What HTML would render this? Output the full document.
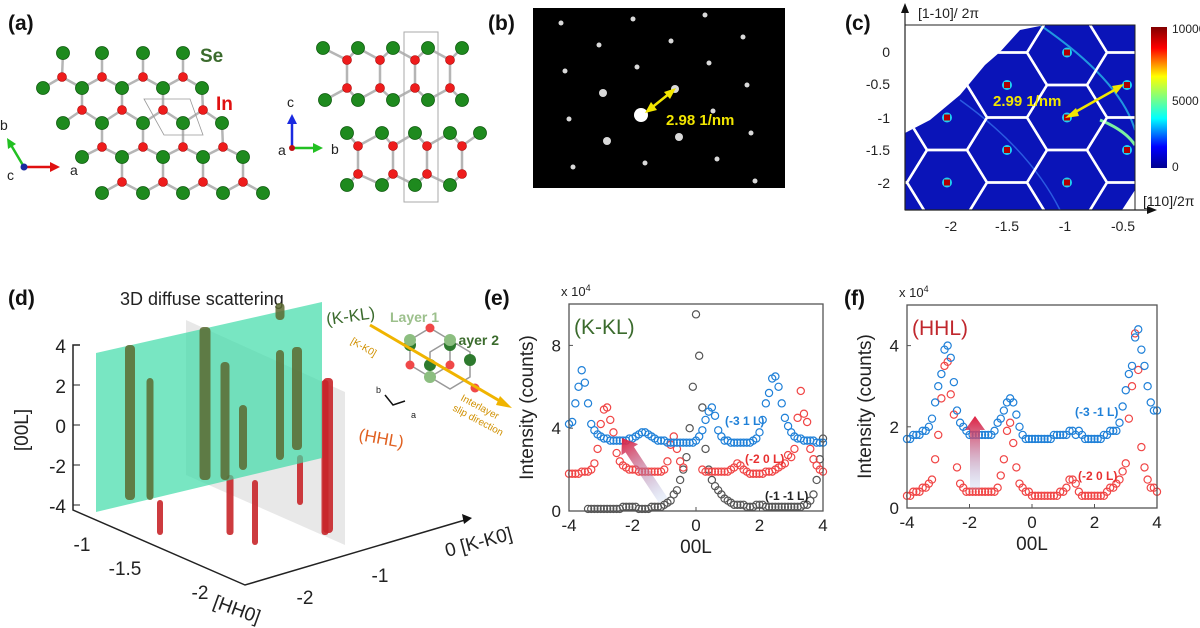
<!DOCTYPE html>
<html><head><meta charset="utf-8"><style>
body{margin:0;background:#fff;}
svg{display:block;font-family:"Liberation Sans",sans-serif;}
</style></head><body>
<svg id="fig" width="1200" height="628" viewBox="0 0 1200 628" xmlns="http://www.w3.org/2000/svg">
<rect width="1200" height="628" fill="#fff"/>
<!-- panel labels -->
<g font-weight="bold" font-size="21" fill="#111">
<text x="8" y="30">(a)</text>
<text x="488" y="30">(b)</text>
<text x="845" y="30">(c)</text>
<text x="8" y="305">(d)</text>
<text x="484" y="305">(e)</text>
<text x="844" y="305">(f)</text>
</g>
<g id="pa"></g>
<g id="pb"></g>
<g id="pc"></g>
<g id="pd"></g>
<g id="pe"></g>
<g id="pf"></g>
</svg>
<script>
// ===== chart data (panels e, f) =====
const Lgrid=[-4,-3.9,-3.8,-3.7,-3.6,-3.5,-3.4,-3.3,-3.2,-3.1,-3,-2.9,-2.8,-2.7,-2.6,-2.5,-2.4,-2.3,-2.2,-2.1,-2,-1.9,-1.8,-1.7,-1.6,-1.5,-1.4,-1.3,-1.2,-1.1,-1,-0.9,-0.8,-0.7,-0.6,-0.5,-0.4,-0.3,-0.2,-0.1,0,0.1,0.2,0.3,0.4,0.5,0.6,0.7,0.8,0.9,1,1.1,1.2,1.3,1.4,1.5,1.6,1.7,1.8,1.9,2,2.1,2.2,2.3,2.4,2.5,2.6,2.7,2.8,2.9,3,3.1,3.2,3.3,3.4,3.5,3.6,3.7,3.8,3.9,4];
const eBlue=[4.2,4.3,5.2,6.0,6.8,6.2,5.2,4.2,3.9,3.7,3.6,3.5,3.5,3.4,3.4,3.4,3.4,3.4,3.4,3.5,3.5,3.6,3.7,3.8,3.8,3.7,3.6,3.5,3.4,3.4,3.4,3.3,3.3,3.3,3.3,3.3,3.3,3.3,3.3,3.3,3.4,3.6,3.9,4.4,4.8,5.0,4.6,3.9,3.6,3.4,3.4,3.3,3.3,3.3,3.3,3.3,3.3,3.3,3.4,3.5,3.8,4.4,5.2,5.7,6.4,6.5,6.0,5.2,4.5,4.1,3.8,3.6,3.5,3.5,3.4,3.4,3.4,3.4,3.3,3.3,3.3];
const eRed=[1.8,1.8,1.8,1.8,1.9,1.9,1.9,2.0,2.3,3.0,4.2,4.9,5.0,4.4,3.8,2.8,2.4,2.2,2.1,2.0,2.0,2.0,1.9,1.9,1.9,1.9,1.9,1.9,1.9,1.9,2.0,2.4,3.2,3.6,3.0,2.4,2.1,null,null,null,null,null,2.0,1.9,1.9,1.9,1.9,1.9,1.9,1.9,1.9,2.0,2.1,2.3,2.2,2.0,1.9,1.8,1.8,1.8,1.8,1.8,1.9,1.9,1.9,2.0,2.1,2.2,2.3,2.7,2.6,3.0,4.5,5.8,4.7,4.3,3.0,2.5,2.2,2.0,1.9];
const eGray=[null,null,null,null,null,null,0.1,0.1,0.1,0.1,0.1,0.1,0.1,0.1,0.1,0.1,0.1,0.2,0.2,0.2,0.2,0.2,0.1,0.1,0.1,0.1,0.2,0.2,0.2,0.2,0.3,0.4,0.5,0.8,1.0,1.5,2.0,2.6,4.0,6.0,9.5,7.5,5.0,3.0,2.0,1.5,1.2,1.0,0.8,0.6,0.5,0.4,0.3,0.3,0.3,0.3,0.2,0.2,0.2,0.3,0.3,0.3,0.2,0.2,0.2,0.2,0.2,0.2,0.2,0.2,0.2,0.2,0.2,0.2,0.3,0.3,0.5,0.8,1.5,2.5,3.5];
const fBlue=[1.7,1.7,1.8,1.8,1.8,1.9,1.9,2.0,2.2,2.6,3.0,3.3,3.9,4.0,3.7,3.1,2.4,2.1,2.0,1.9,1.8,1.8,1.8,1.8,1.8,1.8,1.8,1.8,1.9,2.1,2.2,2.4,2.6,2.7,2.6,2.3,2.0,1.8,1.7,1.7,1.7,1.7,1.7,1.7,1.7,1.7,1.7,1.8,1.8,1.8,1.8,1.8,1.9,1.9,1.8,1.9,1.8,1.7,1.7,1.7,1.7,1.7,1.7,1.8,1.8,1.9,1.9,1.9,2.1,2.5,2.9,3.3,3.5,4.2,4.4,3.9,3.5,3.0,2.6,2.4,2.4];
const fRed=[0.3,0.3,0.4,0.4,0.4,0.5,0.5,0.6,0.7,1.2,1.8,2.7,3.5,3.6,2.8,2.3,1.0,0.6,0.5,0.4,0.4,0.4,0.4,0.4,0.4,0.4,0.4,0.4,0.4,0.5,0.8,1.2,1.9,2.1,1.6,1.0,0.6,0.5,0.4,0.4,0.3,0.3,0.3,0.3,0.3,0.3,0.3,0.3,0.3,0.4,0.4,0.5,0.7,0.7,0.6,0.4,0.3,0.3,0.3,0.3,0.3,0.3,0.3,0.3,0.4,0.5,0.5,0.6,0.7,0.9,1.1,2.2,3.0,4.3,3.4,1.5,1.0,0.7,0.5,0.5,0.4];
const xTicks=[-4,-2,0,2,4];
const eYTicks=[0,4,8];
const fYTicks=[0,2,4];

const NS="http://www.w3.org/2000/svg";
function mk(parent,tag,attrs,text){const el=document.createElementNS(NS,tag);for(const k in attrs)el.setAttribute(k,attrs[k]);if(text!==undefined)el.textContent=text;parent.appendChild(el);return el;}

// ===== panel a =====
(function(){
const g=document.getElementById('pa');
const greens=[[63,53],[102,53],[143,53],[183,53],[43,88],[82,88],[122,88],[163,88],[202,88],[63,123],[102,123],[143,123],[183,123],[222,123],[82,157],[122,157],[163,157],[203,157],[243,157],[102,193],[143,193],[183,193],[223,193],[263,193]];
const reds=[[62,77],[102,77],[143,77],[183,77],[82,110],[122,110],[163,110],[203,110],[102,147],[143,147],[183,147],[223,147],[122,182],[163,182],[203,182],[243,182]];
const greens2=[[323,48],[358,48],[393,48],[428,48],[462,48],[325,100],[358,100],[393,100],[428,100],[462,100],[347,133],[382,133],[415,133],[450,133],[480,133],[347,185],[382,185],[415,185],[450,185]];
const reds2=[[347,60],[380,60],[415,60],[450,60],[347,88],[380,88],[415,88],[450,88],[358,146],[393,146],[427,146],[462,146],[358,174],[393,174],[427,174],[462,174]];
const bonds=mk(g,'g',{stroke:'#b5b5b5','stroke-width':2.5});


function bond(G,R,th){G.forEach(a=>R.forEach(b=>{const d=Math.hypot(a[0]-b[0],a[1]-b[1]);if(d<th)mk(bonds,'line',{x1:a[0],y1:a[1],x2:b[0],y2:b[1]});}));}
bond(greens,reds,30);
for(let i=0;i<reds.length;i++)for(let j=i+1;j<reds.length;j++){}
bond(greens2,reds2,28);
reds2.forEach(a=>reds2.forEach(b=>{if(a[0]===b[0]&&b[1]-a[1]===28)mk(bonds,'line',{x1:a[0],y1:a[1],x2:b[0],y2:b[1]});}));
// unit cells
mk(g,'polygon',{points:'144,99 190,99 203,135 164,135',fill:'none',stroke:'#999','stroke-width':0.8});
mk(g,'rect',{x:404,y:32,width:34,height:170,fill:'none',stroke:'#aaa','stroke-width':1});
greens.concat(greens2).forEach(p=>mk(g,'circle',{cx:p[0],cy:p[1],r:6.5,fill:'#1e8a1e',stroke:'#0d5a0d','stroke-width':0.8}));
reds.concat(reds2).forEach(p=>mk(g,'circle',{cx:p[0],cy:p[1],r:4.5,fill:'#ee1c1c',stroke:'#a00','stroke-width':0.6}));
const se=mk(g,'text',{x:200,y:62,'font-size':19,'font-weight':'bold',fill:'#3b6b2d'},'Se');

const inn=mk(g,'text',{x:216,y:110,'font-size':19,'font-weight':'bold',fill:'#e01010'},'In');

// axes triad 1
mk(g,'line',{x1:24,y1:167,x2:52,y2:167,stroke:'#e01010','stroke-width':2.5});
mk(g,'polygon',{points:'60,167 50,162 50,172',fill:'#e01010'});
mk(g,'line',{x1:24,y1:167,x2:11,y2:145,stroke:'#22c022','stroke-width':2.5});
mk(g,'polygon',{points:'7,138 8,149 16,144',fill:'#22c022'});
mk(g,'circle',{cx:24,cy:167,r:3.5,fill:'#1a2aa0'});
mk(g,'text',{x:0,y:130,'font-size':14,fill:'#222'},'b');
mk(g,'text',{x:7,y:180,'font-size':14,fill:'#222'},'c');
mk(g,'text',{x:70,y:175,'font-size':14,fill:'#222'},'a');
// triad 2
mk(g,'line',{x1:292,y1:148,x2:292,y2:122,stroke:'#1a2ae0','stroke-width':2.5});
mk(g,'polygon',{points:'292,114 287,124 297,124',fill:'#1a2ae0'});
mk(g,'line',{x1:292,y1:148,x2:315,y2:148,stroke:'#22c022','stroke-width':2.5});
mk(g,'polygon',{points:'323,148 313,143 313,153',fill:'#22c022'});
mk(g,'circle',{cx:292,cy:148,r:3,fill:'#c01010'});
mk(g,'text',{x:287,y:107,'font-size':14,fill:'#222'},'c');
mk(g,'text',{x:278,y:155,'font-size':14,fill:'#222'},'a');
mk(g,'text',{x:331,y:154,'font-size':14,fill:'#222'},'b');
})();

// ===== panel b =====
(function(){
const g=document.getElementById('pb');
const bg=mk(g,'rect',{x:533,y:8,width:252,height:180,fill:'#000'});

const cx=641,cy=115;const a1=[34,-26],a2=[38,22];
for(let i=-5;i<=5;i++)for(let j=-5;j<=5;j++){const x=cx+i*a1[0]+j*a2[0],y=cy+i*a1[1]+j*a2[1];if(x<540||x>780||y<14||y>182)continue;const r=(i===0&&j===0)?7:((Math.abs(i)+Math.abs(j))<=1?4:2.5);mk(g,'circle',{cx:x,cy:y,r:r,fill:'#fff',opacity:(i===0&&j===0)?1:0.85});}
mk(g,'line',{x1:650,y1:109,x2:670,y2:93,stroke:'#f2e600','stroke-width':2.5});
mk(g,'polygon',{points:'676,88 664,92 670,99',fill:'#f2e600'});
mk(g,'polygon',{points:'645,113 651,102 657,110',fill:'#f2e600'});
const t=mk(g,'text',{x:666,y:125,'font-size':15,'font-weight':'bold',fill:'#f2e600'},'2.98 1/nm');

})();

// ===== panel c =====
(function(){
const g=document.getElementById('pc');
const defs=mk(g,'defs',{});
const cp=mk(defs,'clipPath',{id:'hm'});
const poly='905,133 930,120 960,95 985,65 1000,52 1020,30 1045,25 1135,25 1135,190 1122,210 905,210';
mk(cp,'polygon',{points:poly});
const hm=mk(g,'polygon',{points:poly,fill:'#0a14b8'});

const cl=mk(g,'g',{'clip-path':'url(#hm)'});
// arcs
mk(cl,'path',{d:'M1040,25 Q1120,80 1135,130',fill:'none',stroke:'#26b8e8','stroke-width':2,opacity:0.8});
mk(cl,'path',{d:'M1100,120 Q1125,130 1135,145',fill:'none',stroke:'#7cf0a0','stroke-width':3});
mk(cl,'path',{d:'M960,100 Q1030,150 1060,210',fill:'none',stroke:'#2a5ae0','stroke-width':1.5});
for(let i=-3;i<=3;i++)for(let j=-5;j<=3;j++){if((i+j)%2!==0)continue;const x=1007+60*i,y=150+32.5*j;
 mk(cl,'polygon',{points:`${x-40},${y} ${x-20},${y-32.5} ${x+20},${y-32.5} ${x+40},${y} ${x+20},${y+32.5} ${x-20},${y+32.5}`,fill:'none',stroke:'#fff','stroke-width':2.5});
 mk(cl,'circle',{cx:x,cy:y,r:5,fill:'#20d0f0'});mk(cl,'rect',{x:x-3,y:y-3,width:6,height:6,fill:'#b00000'});}
mk(g,'rect',{x:905,y:25,width:230,height:185,fill:'none',stroke:'#222','stroke-width':1});
mk(g,'line',{x1:905,y1:210,x2:905,y2:10,stroke:'#222','stroke-width':1.2});
mk(g,'polygon',{points:'905,3 901,13 909,13',fill:'#111'});
mk(g,'line',{x1:905,y1:210,x2:1150,y2:210,stroke:'#222','stroke-width':1.2});
mk(g,'polygon',{points:'1157,210 1147,206 1147,214',fill:'#111'});
mk(g,'text',{x:918,y:18,'font-size':14,fill:'#222'},'[1-10]/ 2π');
mk(g,'text',{x:1143,y:206,'font-size':14,fill:'#222'},'[110]/2π');
[['0',52],['-0.5',84],['-1',118],['-1.5',150],['-2',183]].forEach(t=>mk(g,'text',{x:890,y:t[1]+5,'font-size':14,fill:'#222','text-anchor':'end'},t[0]));
[['-2',951],['-1.5',1007],['-1',1065],['-0.5',1123]].forEach(t=>mk(g,'text',{x:t[1],y:231,'font-size':14,fill:'#222','text-anchor':'middle'},t[0]));
const gr=mk(defs,'linearGradient',{id:'jet',x1:0,y1:1,x2:0,y2:0});
[['0','#00008f'],['0.15','#0000ff'],['0.35','#00ffff'],['0.5','#7fff7f'],['0.65','#ffff00'],['0.85','#ff0000'],['1','#800000']].forEach(s=>mk(gr,'stop',{offset:s[0],'stop-color':s[1]}));
const cb=mk(g,'rect',{x:1151,y:27,width:16,height:141,fill:'url(#jet)'});

[['10000',33],['5000',105],['0',171]].forEach(t=>mk(g,'text',{x:1172,y:t[1],'font-size':12,fill:'#222'},t[0]));
mk(g,'line',{x1:1070,y1:115,x2:1118,y2:88,stroke:'#f2e600','stroke-width':2.5});
mk(g,'polygon',{points:'1065,118 1076,108 1079,116',fill:'#f2e600'});
mk(g,'polygon',{points:'1124,84 1112,86 1116,94',fill:'#f2e600'});
mk(g,'text',{x:993,y:106,'font-size':15,'font-weight':'bold',fill:'#f2e600'},'2.99 1/nm');
})();

// ===== panel d =====
(function(){
const g=document.getElementById('pd');
mk(g,'text',{x:120,y:305,'font-size':18,fill:'#222'},'3D diffuse scattering');
const gp=mk(g,'polygon',{points:'186,320 345,392 345,545 186,475',fill:'#d8d8d8',opacity:0.6});

const rodsR=[[160,500,535,6],[230,475,535,7],[255,480,545,6],[300,455,505,6],[325,380,535,7]];
rodsR.forEach(r=>mk(g,'rect',{x:r[0]-r[3]/2,y:r[1],width:r[3],height:r[2]-r[1],rx:3,fill:'#c8262a',opacity:0.9}));
const tp=mk(g,'polygon',{points:'96,353 322,302 322,458 96,512',fill:'#3fdca8',opacity:0.7});

const rodsG=[[130,345,500,10],[150,378,500,7],[205,327,480,11],[225,362,480,9],[243,405,470,8],[280,350,460,8],[297,347,450,10],[280,303,320,9]];
rodsG.forEach(r=>mk(g,'rect',{x:r[0]-r[3]/2,y:r[1],width:r[3],height:r[2]-r[1],rx:4,fill:'#5a6a30',opacity:0.85}));
mk(g,'rect',{x:323,y:378,width:10,height:155,rx:4,fill:'#c8262a',opacity:0.9});
// axes
mk(g,'path',{d:'M80,345 L73,345 L73,510 L245,585 L465,520',fill:'none',stroke:'#222','stroke-width':1.5});
mk(g,'polygon',{points:'472,518 462,514 464,524',fill:'#111'});
[[345,'4'],[385,'2'],[425,'0'],[465,'-2'],[505,'-4']].forEach(t=>{mk(g,'line',{x1:73,y1:t[0],x2:80,y2:t[0],stroke:'#222'});mk(g,'text',{x:66,y:t[0]+8,'font-size':19,fill:'#222','text-anchor':'end'},t[1]);});
mk(g,'text',{x:28,y:430,'font-size':19,fill:'#222','text-anchor':'middle',transform:'rotate(-90 28 430)'},'[00L]');
mk(g,'text',{x:82,y:551,'font-size':19,fill:'#222','text-anchor':'middle'},'-1');
mk(g,'text',{x:125,y:575,'font-size':19,fill:'#222','text-anchor':'middle'},'-1.5');
mk(g,'text',{x:200,y:599,'font-size':19,fill:'#222','text-anchor':'middle'},'-2');
mk(g,'text',{x:212,y:607,'font-size':19,fill:'#222',transform:'rotate(20 212 607)'},'[HH0]');
mk(g,'text',{x:305,y:604,'font-size':19,fill:'#222','text-anchor':'middle'},'-2');
mk(g,'text',{x:380,y:582,'font-size':19,fill:'#222','text-anchor':'middle'},'-1');
mk(g,'text',{x:447,y:557,'font-size':19,fill:'#222',transform:'rotate(-15 447 557)'},'0 [K-K0]');
mk(g,'text',{x:327,y:325,'font-size':17,fill:'#3b6b2d',transform:'rotate(-8 327 325)'},'(K-KL)');
mk(g,'text',{x:358,y:440,'font-size':17,fill:'#e06020',transform:'rotate(10 358 440)'},'(HHL)');
// inset
mk(g,'text',{x:390,y:322,'font-size':14,'font-weight':'bold',fill:'#9cc08c'},'Layer 1');
mk(g,'text',{x:450,y:345,'font-size':14,'font-weight':'bold',fill:'#3b6b2d'},'Layer 2');
const hx=[[410,340],[430,328],[450,340],[450,365],[430,377],[410,365]];
mk(g,'polygon',{points:hx.map(p=>p.join(',')).join(' '),fill:'none',stroke:'#999','stroke-width':1.5});
mk(g,'polygon',{points:'430,352 450,340 470,352 470,377 450,389 430,377',fill:'none',stroke:'#999','stroke-width':1.5});
[[410,345],[450,345],[430,365],[470,360]].forEach(p=>mk(g,'circle',{cx:p[0],cy:p[1],r:6,fill:'#2e7a2e'}));
[[410,340],[450,340],[430,377]].forEach(p=>mk(g,'circle',{cx:p[0],cy:p[1],r:6,fill:'#8cbe80'}));
[[430,328],[450,365],[410,365],[475,388]].forEach(p=>mk(g,'circle',{cx:p[0],cy:p[1],r:4.5,fill:'#f04848'}));
mk(g,'line',{x1:370,y1:325,x2:505,y2:404,stroke:'#f0b400','stroke-width':3});
mk(g,'polygon',{points:'512,408 500,396 496,405',fill:'#f0b400'});
mk(g,'text',{x:350,y:343,'font-size':10,fill:'#d09000',transform:'rotate(30 350 343)'},'[K-K0]');
mk(g,'text',{x:460,y:400,'font-size':10,fill:'#d09000',transform:'rotate(28 460 400)'},'Interlayer');
mk(g,'text',{x:452,y:410,'font-size':10,fill:'#d09000',transform:'rotate(28 452 410)'},'slip direction');
mk(g,'path',{d:'M385,395 L393,405 L405,401',fill:'none',stroke:'#111','stroke-width':1.5});
mk(g,'text',{x:376,y:393,'font-size':9,fill:'#222'},'b');
mk(g,'text',{x:411,y:418,'font-size':9,fill:'#222'},'a');
})();

// ===== panels e, f =====
function drawChart(g,box,yMax,yTicks,series,title,titleColor,labels,arrow){
 const X=v=>box.x0+(v+4)/8*(box.x1-box.x0);
 const Y=v=>box.y1-v/yMax*(box.y1-box.y0);
 series.forEach(s=>{const sg=mk(g,'g',{fill:'none',stroke:s.color,'stroke-width':1.2});
  
  
  s.vals.forEach((v,i)=>{if(v===null)return;const c=mk(sg,'circle',{cx:X(Lgrid[i]),cy:Y(v),r:3.6});});});
 const fr=mk(g,'rect',{x:box.x0,y:box.y0,width:box.x1-box.x0,height:box.y1-box.y0,fill:'none',stroke:'#555','stroke-width':1.3});
 
 xTicks.forEach(t=>{mk(g,'line',{x1:X(t),y1:box.y1,x2:X(t),y2:box.y1-4,stroke:'#555'});const tl=mk(g,'text',{x:X(t),y:box.y1+20,'font-size':17,fill:'#222','text-anchor':'middle'},String(t));
  });
 yTicks.forEach(t=>{mk(g,'line',{x1:box.x0,y1:Y(t),x2:box.x0+4,y2:Y(t),stroke:'#555'});const tl=mk(g,'text',{x:box.x0-8,y:Y(t)+6,'font-size':17,fill:'#222','text-anchor':'end'},String(t));
  });
 const xt=mk(g,'text',{x:(box.x0+box.x1)/2,y:box.y1+42,'font-size':19,fill:'#222','text-anchor':'middle'},'00L');
 
 const yx=box.x0-36,yy=(box.y0+box.y1)/2;
 const yt=mk(g,'text',{x:yx,y:yy,'font-size':19,fill:'#222','text-anchor':'middle',transform:`rotate(-90 ${yx} ${yy})`},'Intensity (counts)');
 
 const sc=mk(g,'text',{x:box.x0-8,y:box.y0-8,'font-size':13,fill:'#222'},'x 10');
 mk(sc,'tspan',{dy:-5,'font-size':9},'4');
 const tt=mk(g,'text',{x:box.x0+5,y:box.y0+30,'font-size':21,fill:titleColor},title);
 
 labels.forEach(l=>{const e=mk(g,'text',{x:l[0],y:l[1],'font-size':12,'font-weight':'bold',fill:l[3]},l[2]);
  });
 const defs=mk(g,'defs',{});const gid='ag'+box.x0;
 const lg=mk(defs,'linearGradient',{id:gid,x1:arrow[0],y1:arrow[1],x2:arrow[2],y2:arrow[3],gradientUnits:'userSpaceOnUse'});
 mk(lg,'stop',{offset:0,'stop-color':'#9ab8e8','stop-opacity':0.2});mk(lg,'stop',{offset:1,'stop-color':'#e02040'});
 const ang=Math.atan2(arrow[3]-arrow[1],arrow[2]-arrow[0]);const w=5,hw=10,hl=14;
 const bx=arrow[2]-hl*Math.cos(ang),by=arrow[3]-hl*Math.sin(ang);const nx=-Math.sin(ang),ny=Math.cos(ang);
 const pts=[[arrow[0]+nx*w,arrow[1]+ny*w],[bx+nx*w,by+ny*w],[bx+nx*hw,by+ny*hw],[arrow[2],arrow[3]],[bx-nx*hw,by-ny*hw],[bx-nx*w,by-ny*w],[arrow[0]-nx*w,arrow[1]-ny*w]];
 const ar=mk(g,'polygon',{points:pts.map(p=>p.join(',')).join(' '),fill:`url(#${gid})`});
 
}
drawChart(document.getElementById('pe'),{x0:569,x1:823,y0:304,y1:511},10,eYTicks,
 [{name:'series-m1-m1-L',color:'#555',vals:eGray},{name:'series-m2-0-L',color:'#f04545',vals:eRed},{name:'series-m3-1-L',color:'#1f80d8',vals:eBlue}],
 '(K-KL)','#3b6b2d',[[725,425,'(-3 1 L)','#1f80d8'],[745,463,'(-2 0 L)','#e83030'],[765,500,'(-1 -1 L)','#222']],[663,500,622,438]);
drawChart(document.getElementById('pf'),{x0:907,x1:1157,y0:305,y1:508},5,fYTicks,
 [{name:'series-m2-0-L',color:'#f04545',vals:fRed},{name:'series-m3-m1-L',color:'#1f80d8',vals:fBlue}],
 '(HHL)','#c0272d',[[1075,416,'(-3 -1 L)','#1f80d8'],[1078,480,'(-2 0 L)','#e83030']],[975,490,975,416]);
</script>
</body></html>
